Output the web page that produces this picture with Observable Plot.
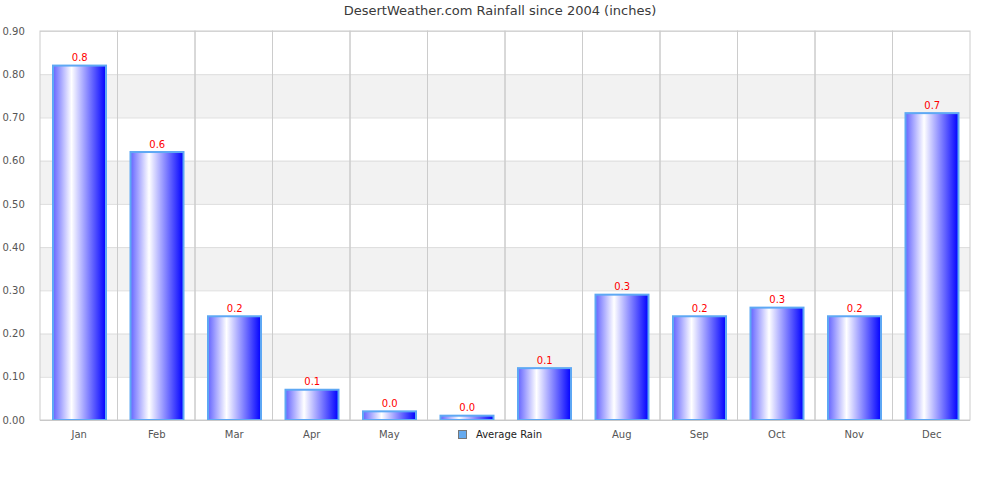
<!DOCTYPE html>
<html><head><meta charset="utf-8">
<script src="https://cdn.jsdelivr.net/npm/d3@7"></script>
<script src="https://cdn.jsdelivr.net/npm/@observablehq/plot@0.6"></script>
<style>
body{margin:0;background:#fff;font-family:"DejaVu Sans",sans-serif;}
#wrap{position:relative;width:1000px;height:500px;}
#title{height:20px;line-height:21px;text-align:center;font-size:13px;color:#3a3a3a;}
#legend{position:absolute;top:428px;left:0;width:1000px;text-align:center;font-size:10px;color:#222;line-height:14px;}
#legend .sw{display:inline-block;width:7px;height:7px;background:#66aaee;border:1px solid #777;margin-right:9px;vertical-align:-1px;}
</style></head><body>
<div id="wrap"><div id="title"></div><div id="chart"></div><div id="legend"></div></div>
<script>
const title = "DesertWeather.com Rainfall since 2004 (inches)";
const seriesName = "Average Rain";
const months = ["Jan","Feb","Mar","Apr","May","Jun","Jul","Aug","Sep","Oct","Nov","Dec"];
const rainfall = [0.82,0.62,0.24,0.07,0.02,0.01,0.12,0.29,0.24,0.26,0.24,0.71];
const yTicks = [0,0.1,0.2,0.3,0.4,0.5,0.6,0.7,0.8,0.9];
const xTickLabels = ["Jan","Feb","Mar","Apr","May","Aug","Sep","Oct","Nov","Dec"];

const data = months.map((m,i)=>({month:m, value:rainfall[i]}));
const bands = yTicks.slice(0,-1).map((t,i)=>({y1:t,y2:yTicks[i+1],i})).filter(d=>d.i%2===1);

document.getElementById("title").textContent = title;
document.getElementById("legend").innerHTML = '<span class="sw"></span>' + seriesName;

const chart = Plot.plot({
  width:1000, height:480,
  marginTop:11, marginBottom:80, marginLeft:40, marginRight:30,
  style:{fontFamily:"DejaVu Sans, sans-serif", fontSize:"10px", color:"#555", background:"white"},
  x:{domain:months, padding:0, round:false, label:null, axis:null},
  y:{domain:[0,0.9], label:null, axis:null},
  marks:[
    Plot.rectY(bands,{y1:"y1",y2:"y2",fill:"#f2f2f2"}),
    Plot.ruleY(yTicks,{stroke:"#dddddd"}),
    Plot.barY(months,{x:d=>d,y1:0,y2:0.9,fill:"none",stroke:"#cccccc"}),
    Plot.barY(data,{x:"month",y:"value",fill:"url(#barGrad)",stroke:"#5ea8f4",strokeWidth:2,insetLeft:13,insetRight:11.5}),
    Plot.text(data,{x:"month",y:"value",text:d=>d.value.toFixed(1),lineAnchor:"bottom",dy:-5,fill:"red",dx:0.5}),
    Plot.axisY(yTicks,{tickSize:0,tickPadding:3,textAnchor:"start",dx:-35,tickFormat:".2f",fill:"#555"}),
    Plot.axisX(xTickLabels,{tickSize:0,tickPadding:10,fill:"#555"}),
    Plot.ruleY([0],{stroke:"#c8c8c8"})
  ]
});
const defs = d3.select(chart).insert("defs",":first-child");
const g = defs.append("linearGradient").attr("id","barGrad").attr("x1","0").attr("x2","1").attr("y1","0").attr("y2","0");
g.append("stop").attr("offset","0").attr("stop-color","#6464ff");
g.append("stop").attr("offset","0.35").attr("stop-color","#ffffff");
g.append("stop").attr("offset","1").attr("stop-color","#0000ff");
document.getElementById("chart").appendChild(chart);
</script>
</body></html>
